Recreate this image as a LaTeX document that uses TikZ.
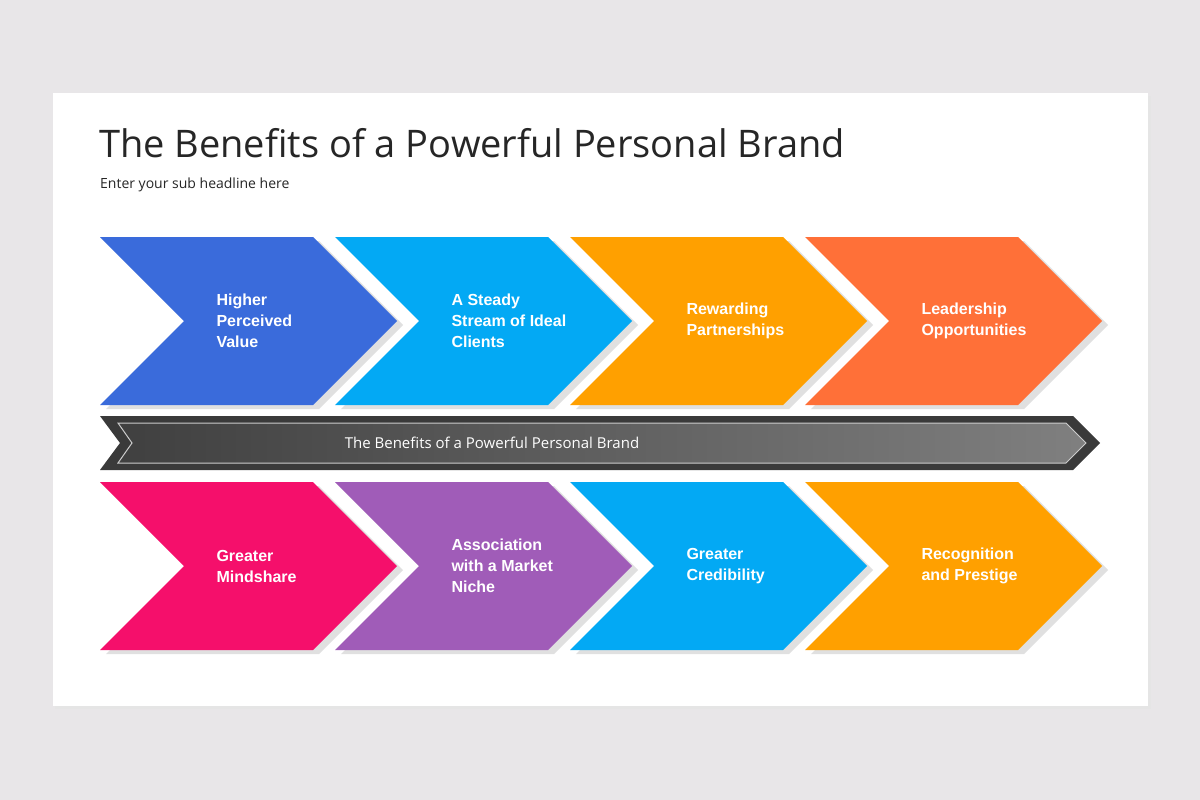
\documentclass[tikz,border=0pt]{standalone}
\usepackage{fontspec}
\setmainfont{Liberation Sans}
\newfontfamily\rob{Open Sans}
\definecolor{bg}{HTML}{E8E6E8}
\definecolor{cA}{HTML}{3A6BDB}
\definecolor{cB}{HTML}{03A9F4}
\definecolor{cC}{HTML}{FFA000}
\definecolor{cD}{HTML}{FF7038}
\definecolor{cE}{HTML}{F50F6B}
\definecolor{cF}{HTML}{A05CB8}
\definecolor{barframe}{HTML}{3A3A3A}
\tikzset{lbl/.style={anchor=west,align=left,text=white,font=\fontsize{16}{21}\selectfont\bfseries}}
\newcommand{\chev}[4]{% x, ytop, color, name
  \fill[black!12] (#1+6,#2+4) -- ++(213,0) -- ++(84,84) -- ++(-84,84) -- ++(-213,0) -- ++(84,-84) -- cycle;
  \fill[#3] (#1,#2) -- ++(213,0) -- ++(84,84) -- ++(-84,84) -- ++(-213,0) -- ++(84,-84) -- cycle;
  \coordinate (#4) at (#1+113,#2+84);
}
\begin{document}
\begin{tikzpicture}[x=1pt,y=-1pt]
\fill[bg] (0,0) rectangle (1200,800);
\fill[black!10] (55,96) rectangle (1151,709);
\fill[white] (53,93) rectangle (1148,706);
\node[anchor=base west,inner sep=0,font=\rob\fontsize{38}{40}\selectfont,text=black!85] (title) at (99,157) {The Benefits of a Powerful Personal Brand};
\node[anchor=base west,inner sep=0,font=\rob\fontsize{14}{16}\selectfont,text=black!85] (sub) at (100,188) {Enter your sub headline here};
\chev{100}{237}{cA}{a}
\chev{335}{237}{cB}{b}
\chev{570}{237}{cC}{c}
\chev{805}{237}{cD}{d}
\chev{100}{482}{cE}{e}
\chev{335}{482}{cF}{f}
\chev{570}{482}{cB}{g}
\chev{805}{482}{cC}{h}
\node[lbl] at (a) {Higher\\Perceived\\Value};
\node[lbl] at (b) {A Steady\\Stream of Ideal\\Clients};
\node[lbl] at (c) {Rewarding\\Partnerships};
\node[lbl] at (d) {Leadership\\Opportunities};
\node[lbl] at (e) {Greater\\Mindshare};
\node[lbl] at (f) {Association\\with a Market\\Niche};
\node[lbl] at (g) {Greater\\Credibility};
\node[lbl] at (h) {Recognition\\and Prestige};
\fill[barframe] (100,416) -- (1073,416) -- (1100,443) -- (1073,470) -- (100,470) -- (120,443) -- cycle;
\shade[left color=black!75,right color=black!50] (118,423) -- (1066,423) -- (1086,443) -- (1066,463) -- (118,463) -- (132,443) -- cycle;
\draw[white!80!black,line width=1pt] (118,423) -- (1066,423) -- (1086,443) -- (1066,463) -- (118,463) -- (132,443) -- cycle;
\node[text=white,font=\rob\fontsize{15}{17}\selectfont] (bar) at (492,443) {The Benefits of a Powerful Personal Brand};
\end{tikzpicture}
\end{document}
